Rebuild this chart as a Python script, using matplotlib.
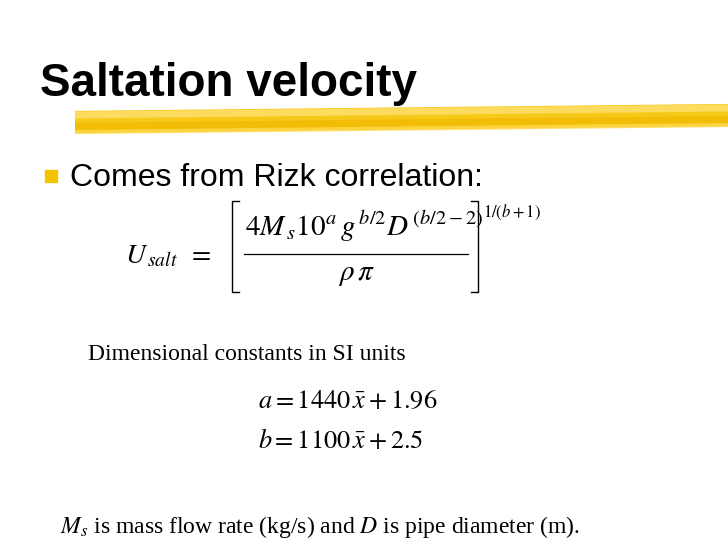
import matplotlib
matplotlib.use('Agg')
import matplotlib.pyplot as plt
from matplotlib.patches import Rectangle

plt.rcParams['mathtext.fontset'] = 'stix'

title = "Saltation velocity"
bullet = "Comes from Rizk correlation:"
lhs = r"$U_{\,salt}\;\;=$"
numerator = r"$4M_{\,s}10^{a}\,g^{\,b/2}D^{\,(b/2-2)}$"
denominator = r"$\rho\,\pi$"
exponent = r"$1/(b+1)$"
note = "Dimensional constants in SI units"
eq_a = r"$a = 1440\,\bar{x} + 1.96$"
eq_b = r"$b = 1100\,\bar{x} + 2.5$"
footer = r"$M_s$ is mass flow rate (kg/s) and $D$ is pipe diameter (m)."

fig = plt.figure(figsize=(7.28, 5.46), dpi=100)
ax = fig.add_axes([0, 0, 1, 1])
ax.set_xlim(0, 728)
ax.set_ylim(546, 0)
ax.axis('off')

# yellow brush stroke under the title
for y0, lw, c, a in [(119, 16, '#f5c400', 0.9), (112, 5, '#ffe070', 0.8),
                     (124, 6, '#f0b800', 0.7), (129, 3, '#ffd84a', 0.8)]:
    ax.plot([75, 728], [y0 + 3, y0 - 4], color=c, lw=lw, alpha=a,
            solid_capstyle='butt')

ax.text(40, 96, title, fontsize=33, fontweight='bold', family='Liberation Sans',
        va='baseline', color='black')
ax.add_patch(Rectangle((45, 170), 12, 12, color='#f5c400'))
ax.text(70, 186, bullet, fontsize=23, family='Liberation Sans', va='baseline')

# Rizk equation built from pieces
ax.text(125, 255, lhs, fontsize=20, va='center')
for xb, d in [(232, 1), (478, -1)]:
    ax.plot([xb + 7 * d, xb, xb, xb + 7 * d], [201, 201, 292, 292],
            color='black', lw=1)
ax.text(245, 226, numerator, fontsize=21, va='center')
ax.plot([244, 468], [254, 254], color='black', lw=0.9)
ax.text(356, 274, denominator, fontsize=21, va='center', ha='center')
ax.text(483, 212, exponent, fontsize=12, va='center')

ax.text(88, 360, note, fontsize=17, family='Liberation Serif', va='baseline')
ax.text(258, 408, eq_a, fontsize=19, va='baseline')
ax.text(258, 448, eq_b, fontsize=19, va='baseline')
ax.text(60, 533, footer, fontsize=17, family='Liberation Serif', va='baseline')

fig.savefig('out.png', dpi=100)
